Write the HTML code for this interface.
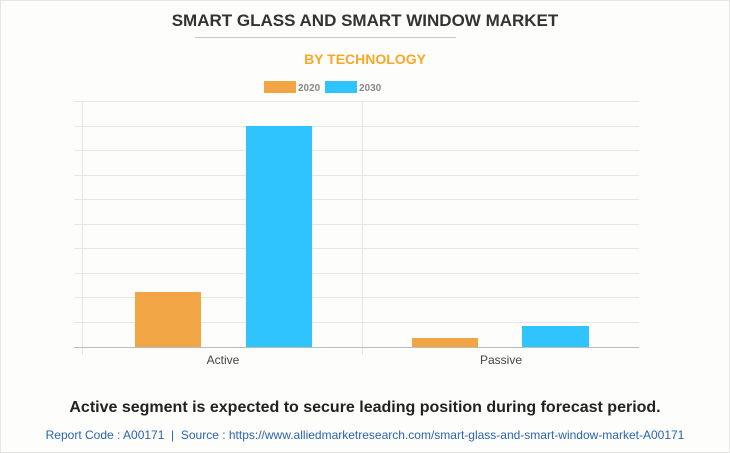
<!DOCTYPE html>
<html><head><style>
body{margin:0;width:730px;height:453px;background:#fdfdfc;font-family:"Liberation Sans",Arial,sans-serif;overflow:hidden;position:relative}
.t{position:absolute;left:0;width:730px;text-align:center}
</style></head><body>
<div style="position:absolute;left:0;top:0;width:728px;height:451px;border:1px solid #e6e6e6"></div>
<div class="t" style="top:11px;font-size:17px;font-weight:bold;color:#333">SMART GLASS AND SMART WINDOW MARKET</div>
<div style="position:absolute;left:195px;top:37px;width:261px;height:1px;background:#c8c8c8"></div>
<div class="t" style="top:51px;font-size:14px;font-weight:bold;color:#f7a827">BY TECHNOLOGY</div>
<svg style="position:absolute;left:0;top:0" width="730" height="453">
<rect x="264" y="81" width="32" height="12" fill="#f2a545"/>
<text x="298" y="91" font-size="10" font-weight="bold" fill="#888">2020</text>
<rect x="325" y="81" width="32" height="12" fill="#30c4fe"/>
<text x="359" y="91" font-size="10" font-weight="bold" fill="#888">2030</text>
<g stroke="#e6e6e6" stroke-width="1">
<line x1="74" x2="639" y1="101.5" y2="101.5"/><line x1="74" x2="639" y1="126.5" y2="126.5"/>
<line x1="74" x2="639" y1="150.5" y2="150.5"/><line x1="74" x2="639" y1="175.5" y2="175.5"/>
<line x1="74" x2="639" y1="199.5" y2="199.5"/><line x1="74" x2="639" y1="224.5" y2="224.5"/>
<line x1="74" x2="639" y1="248.5" y2="248.5"/><line x1="74" x2="639" y1="273.5" y2="273.5"/>
<line x1="74" x2="639" y1="297.5" y2="297.5"/><line x1="74" x2="639" y1="322.5" y2="322.5"/>
<line x1="82.5" x2="82.5" y1="101" y2="355"/><line x1="362.5" x2="362.5" y1="101" y2="355"/>
</g>
<rect x="135" y="292" width="66" height="55" fill="#f2a545"/>
<rect x="246" y="126" width="66" height="221" fill="#30c4fe"/>
<rect x="412" y="338" width="66" height="9" fill="#f2a545"/>
<rect x="522" y="326" width="67" height="21" fill="#30c4fe"/>
<line x1="74" x2="639" y1="347.5" y2="347.5" stroke="#bbb"/>
<text x="223" y="364" font-size="12" fill="#444" text-anchor="middle">Active</text>
<text x="501" y="364" font-size="12" fill="#444" text-anchor="middle">Passive</text>
</svg>
<div class="t" style="top:399px;font-size:16px;font-weight:bold;color:#222">Active segment is expected to secure leading position during forecast period.</div>
<div class="t" style="top:428px;font-size:12px;color:#2a64b0">Report Code : A00171 &nbsp;|&nbsp; Source : https://www.alliedmarketresearch.com/smart-glass-and-smart-window-market-A00171</div>
</body></html>
